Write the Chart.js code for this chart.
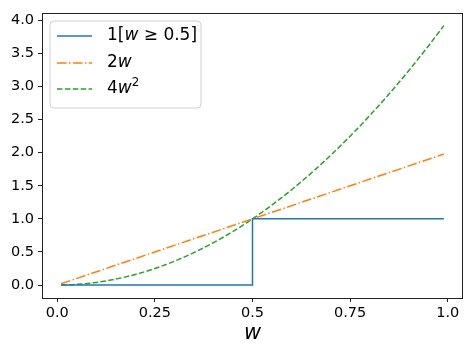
<!DOCTYPE html>
<html>
<head>
<meta charset="utf-8">
<script src="https://cdn.jsdelivr.net/npm/chart.js@4"></script>
<style>
html,body{margin:0;padding:0;background:#fff;}
#wrap{width:474px;height:355px;}
</style>
</head>
<body>
<div id="wrap"><canvas id="c" width="474" height="355"></canvas></div>
<script>
// Data
const stepX = [0.01, 0.5, 0.5, 0.99];
const stepY = [0, 0, 1, 1];
const linX = [0.01, 0.25, 0.5, 0.75, 0.99];
const linY = [0.02, 0.5, 1.0, 1.5, 1.98];
const quadX = [0.01, 0.05, 0.1, 0.15, 0.2, 0.25, 0.3, 0.35, 0.4, 0.45, 0.5, 0.55, 0.6, 0.65, 0.7, 0.75, 0.8, 0.85, 0.9, 0.95, 0.99];
const quadY = [0.0, 0.01, 0.04, 0.09, 0.16, 0.25, 0.36, 0.49, 0.64, 0.81, 1.0, 1.21, 1.44, 1.69, 1.96, 2.25, 2.56, 2.89, 3.24, 3.61, 3.92];
const xTicks = [0, 0.25, 0.5, 0.75, 1.0];
const xTickLabels = ["0.0", "0.25", "0.5", "0.75", "1.0"];
const yTicks = [0, 0.5, 1.0, 1.5, 2.0, 2.5, 3.0, 3.5, 4.0];
const yTickLabels = ["0.0", "0.5", "1.0", "1.5", "2.0", "2.5", "3.0", "3.5", "4.0"];
const xLabel = "w";

const BLUE = "#1f77b4", ORANGE = "#ff7f0e", GREEN = "#2ca02c";
const FONT = "'DejaVu Sans', sans-serif";

function pts(xs, ys) { return xs.map((x, i) => ({x: x, y: ys[i]})); }

const frame = {
  id: 'frame',
  afterDatasetsDraw(chart) {
    const {ctx, chartArea: a} = chart;
    ctx.save();
    ctx.strokeStyle = '#222';
    ctx.lineWidth = 1;
    ctx.strokeRect(Math.round(a.left) + 0.5, Math.round(a.top) + 0.5,
                   Math.round(a.right - a.left) - 1, Math.round(a.bottom - a.top));
    ctx.restore();
  }
};

const legendBox = {
  id: 'legendBox',
  afterDraw(chart) {
    const ctx = chart.ctx;
    const bx = 50, by = 21, bw = 151, bh = 87, r = 4;
    ctx.save();
    ctx.beginPath();
    ctx.moveTo(bx + r, by);
    ctx.arcTo(bx + bw, by, bx + bw, by + bh, r);
    ctx.arcTo(bx + bw, by + bh, bx, by + bh, r);
    ctx.arcTo(bx, by + bh, bx, by, r);
    ctx.arcTo(bx, by, bx + bw, by, r);
    ctx.closePath();
    ctx.fillStyle = 'rgba(255,255,255,0.8)';
    ctx.fill();
    ctx.strokeStyle = '#d0d0d0';
    ctx.lineWidth = 1;
    ctx.stroke();

    const rows = [
      {y: 36, color: BLUE, dash: []},
      {y: 63, color: ORANGE, dash: [9.6, 2.4, 1.5, 2.4]},
      {y: 89, color: GREEN, dash: [5.5, 2.4]}
    ];
    rows.forEach(rw => {
      ctx.beginPath();
      ctx.setLineDash(rw.dash);
      ctx.strokeStyle = rw.color;
      ctx.lineWidth = 1.5;
      ctx.moveTo(57, rw.y);
      ctx.lineTo(92, rw.y);
      ctx.stroke();
    });
    ctx.setLineDash([]);
    ctx.fillStyle = '#000';
    ctx.textBaseline = 'middle';
    const fs = 17;
    const reg = fs + "px " + FONT;
    const ita = "oblique " + fs + "px " + FONT;
    function seq(parts, x, y) {
      parts.forEach(p => {
        ctx.font = p[1];
        const yy = y + (p[2] || 0);
        ctx.fillText(p[0], x, yy);
        x += ctx.measureText(p[0]).width;
      });
    }
    seq([["1[", reg], ["w", ita], [" \u2265 0.5]", reg]], 107, 36);
    seq([["2", reg], ["w", ita]], 107, 63);
    seq([["4", reg], ["w", ita], ["2", (fs * 0.7).toFixed(1) + "px " + FONT, -6]], 107, 89);
    ctx.restore();
  }
};

new Chart(document.getElementById('c'), {
  type: 'line',
  data: {
    datasets: [
      {label: '1[w ≥ 0.5]', data: pts(stepX, stepY), borderColor: BLUE, borderWidth: 1.5, pointRadius: 0, fill: false, tension: 0},
      {label: '2w', data: pts(linX, linY), borderColor: ORANGE, borderWidth: 1.5, borderDash: [9.6, 2.4, 1.5, 2.4], pointRadius: 0, fill: false, tension: 0},
      {label: '4w²', data: pts(quadX, quadY), borderColor: GREEN, borderWidth: 1.5, borderDash: [5.5, 2.4], pointRadius: 0, fill: false, cubicInterpolationMode: 'monotone'}
    ]
  },
  options: {
    responsive: false,
    animation: false,
    events: [],
    layout: {padding: {left: 0, right: 11, top: 12, bottom: 0}},
    plugins: {legend: {display: false}, tooltip: {enabled: false}},
    scales: {
      x: {
        type: 'linear', min: -0.039, max: 1.039,
        afterBuildTicks: s => { s.ticks = xTicks.map(v => ({value: v})); },
        afterFit: s => { s.height = 57; },
        grid: {drawOnChartArea: false, drawTicks: true, tickLength: 4, tickColor: '#222', tickWidth: 1},
        border: {display: false},
        ticks: {
          color: '#000', padding: 3, maxRotation: 0, autoSkip: false,
          font: {family: FONT, size: 14.5},
          callback: (v) => { const i = xTicks.indexOf(v); return i >= 0 ? xTickLabels[i] : ''; }
        },
        title: {display: true, text: xLabel, color: '#000', font: {family: FONT, size: 21, style: 'oblique'}, padding: {top: 2, bottom: 9}}
      },
      y: {
        type: 'linear', min: -0.196, max: 4.116,
        afterBuildTicks: s => { s.ticks = yTicks.map(v => ({value: v})); },
        afterFit: s => { s.width = 42; },
        grid: {drawOnChartArea: false, drawTicks: true, tickLength: 4, tickColor: '#222', tickWidth: 1},
        border: {display: false},
        ticks: {
          color: '#000', padding: 4, autoSkip: false,
          font: {family: FONT, size: 14.5},
          callback: (v) => { const i = yTicks.indexOf(v); return i >= 0 ? yTickLabels[i] : ''; }
        }
      }
    }
  },
  plugins: [frame, legendBox]
});
</script>
</body>
</html>
